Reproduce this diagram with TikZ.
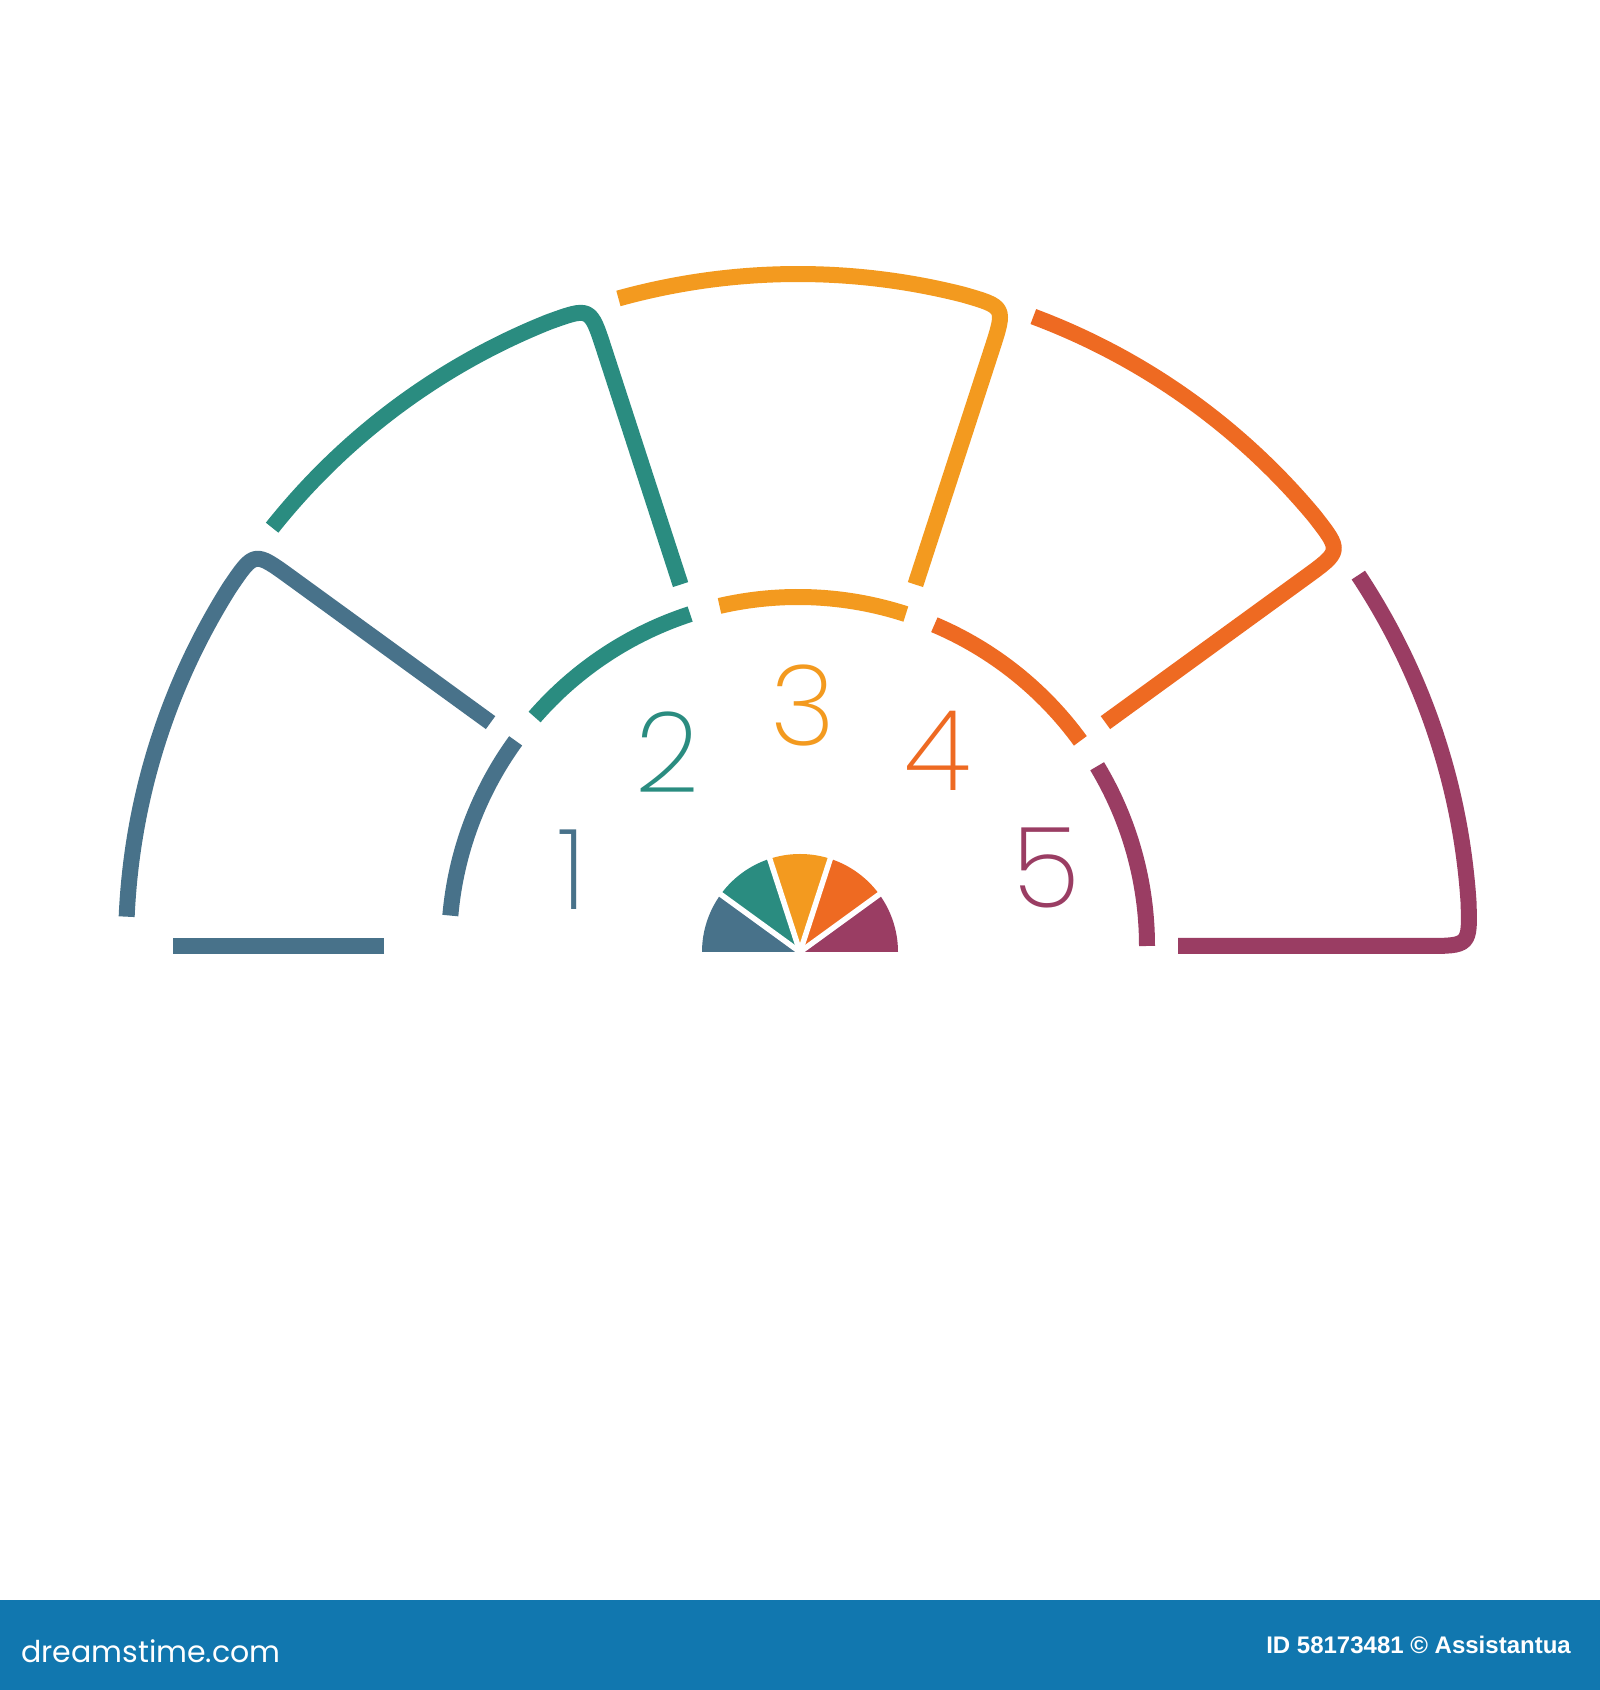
\documentclass[tikz,border=0pt]{standalone}
\usepackage{fontspec}
\IfFontExistsTF{Poppins ExtraLight}{\newfontfamily\numfont{Poppins ExtraLight}}{%
  \IfFontExistsTF{Poppins Thin}{\newfontfamily\numfont{Poppins Thin}}{%
    \IfFontExistsTF{Poppins Light}{\newfontfamily\numfont{Poppins Light}}{\newfontfamily\numfont{Poppins}}}}
\newfontfamily\logofont{Poppins}
\newfontfamily\idfont{Liberation Sans}
\definecolor{cA}{HTML}{48728A}
\definecolor{cB}{HTML}{2A8C80}
\definecolor{cC}{HTML}{F39A1F}
\definecolor{cD}{HTML}{EE6A22}
\definecolor{cE}{HTML}{9A3D63}
\definecolor{band}{HTML}{1177AF}
\begin{document}
\begin{tikzpicture}[x=1pt,y=1pt,
  seg/.style={line width=16pt, line cap=butt, line join=round},
  num/.style={inner sep=0pt, font=\numfont\fontsize{112}{112}\selectfont}]
\fill[white] (0,0) rectangle (1600,1690);
\useasboundingbox (0,0) rectangle (1600,1690);
% main segments
\begin{scope}[shift={(798,744)}]
\foreach \t/\c in {144/cA,108/cB,72/cC,36/cD,0/cE}{
  \draw[seg,\c] ({\t+33.5}:672pt) arc[start angle={\t+33.5}, end angle={\t+3.8}, radius=672pt]
     .. controls (\t:672pt) .. (\t:627pt) -- (\t:380pt);
  \draw[seg,\c] ({\t+31}:349pt) arc[start angle={\t+31}, end angle=\t, radius=349pt];
}
\draw[seg,cA] (180:414pt) -- (180:625pt);
\end{scope}
% small pie
\begin{scope}[shift={(800,738)}]
\foreach \t/\c in {144/cA,108/cB,72/cC,36/cD,0/cE}{
  \fill[\c] (0,0) -- (\t:98pt) arc[start angle=\t, end angle={\t+36}, radius=98pt] -- cycle;
}
\foreach \a in {36,72,108,144}{
  \draw[white, line width=5.5pt] (0,0) -- (\a:106pt);
}
\end{scope}
% numbers
\node[num, text=cA] (n1) at (572,820) {1};
\node[num, text=cB] (n2) at (667,938) {2};
\node[num, text=cC] (n3) at (803,984) {3};
\node[num, text=cD] (n4) at (938,939) {4};
\node[num, text=cE] (n5) at (1046,822) {5};
% banner
\fill[band] (0,0) rectangle (1600,90);
\node[anchor=west, text=white, inner sep=0pt, font=\logofont\fontsize{30}{30}\selectfont] (logo) at (21,38.5) {dreamstime.com};
\node[anchor=east, text=white, inner sep=0pt, font=\idfont\bfseries\fontsize{24}{24}\selectfont] (idtext) at (1571,45) {ID 58173481 © Assistantua};
\end{tikzpicture}
\end{document}
